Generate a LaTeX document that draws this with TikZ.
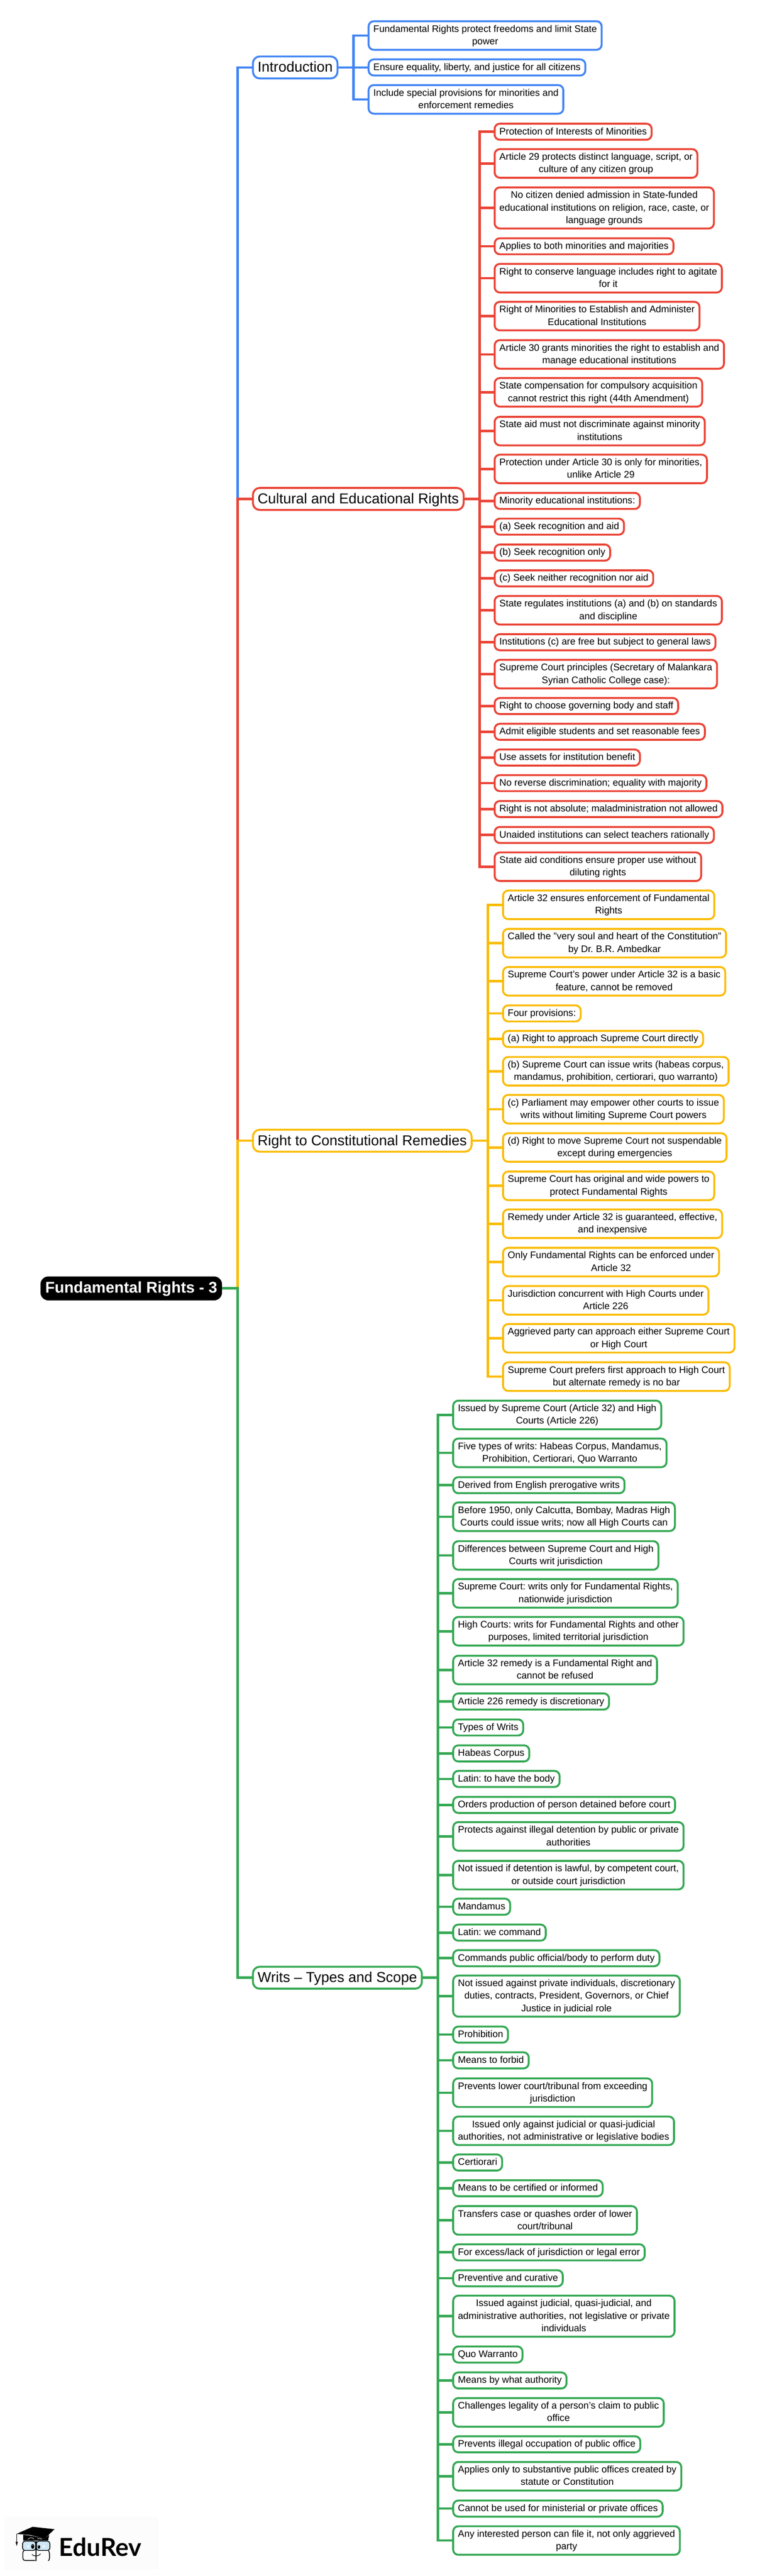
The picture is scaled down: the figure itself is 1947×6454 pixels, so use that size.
\documentclass[tikz,border=0pt]{standalone}
\usepackage{fontspec}
\setmainfont{Liberation Sans}
\newfontfamily\logofont{Lato}
\definecolor{gblue}{HTML}{4285F4}
\definecolor{gred}{HTML}{EA4335}
\definecolor{gyellow}{HTML}{FBBC04}
\definecolor{ggreen}{HTML}{34A853}
\definecolor{glass}{HTML}{CFE8F7}
\frenchspacing
\newcommand{\lstr}{\rule[-8.7pt]{0pt}{31.3pt}}
\tikzset{
	root/.style={anchor=center, fill=black, text=white, rounded corners=20pt, inner xsep=12pt, inner ysep=0pt, font=\fontsize{39}{50}\selectfont\bfseries, outer sep=0pt, execute at begin node={\rule[-18.5pt]{0pt}{60pt}}},
	branch/.style={anchor=west, draw=#1, fill=white, line width=4.8pt, rounded corners=17pt, inner xsep=12pt, inner ysep=4pt, font=\fontsize{36}{47}\selectfont, outer sep=0pt, execute at begin node={\rule[-11.8pt]{0pt}{47pt}}},
	leaf/.style={anchor=west, draw=#1, fill=white, line width=4.8pt, rounded corners=13pt, inner xsep=12pt, inner ysep=4.5pt, align=center, font=\fontsize{24}{31.3}\selectfont, outer sep=0pt, execute at end node=\lstr},
	link/.style={draw=#1, line width=6pt},
}
\begin{document}
\begin{tikzpicture}[x=1pt,y=-1pt]
	\useasboundingbox (0,0) rectangle (1947,6454);

	\node (T) [root] at (329,3228) {Fundamental Rights - 3};
	\coordinate (M) at (596,3228);

	\node (I) [branch=gblue] at (634,169) {Introduction};
	\node (C) [branch=gred] at (634,1250) {Cultural and Educational Rights};
	\node (R) [branch=gyellow] at (634,2858) {Right to Constitutional Remedies};
	\node (W) [branch=ggreen] at (634,4955) {Writs – Types and Scope};

	\coordinate (Is) at (886,169);
	\coordinate (Cs) at (1202,1250);
	\coordinate (Rs) at (1223,2858);
	\coordinate (Ws) at (1098,4955);

	\node (I1) [leaf=gblue] at (924,89) {\lstr Fundamental Rights protect freedoms and limit State\\power};
	\node (I2) [leaf=gblue] at (924,169) {\lstr Ensure equality, liberty, and justice for all citizens};
	\node (I3) [leaf=gblue] at (924,249) {\lstr Include special provisions for minorities and\\enforcement remedies};

	\node (C1) [leaf=gred] at (1240,330) {\lstr Protection of Interests of Minorities};
	\node (C2) [leaf=gred] at (1240,409.5) {\lstr Article 29 protects distinct language, script, or\\culture of any citizen group};
	\node (C3) [leaf=gred] at (1240,521) {\lstr No citizen denied admission in State-funded\\educational institutions on religion, race, caste, or\\language grounds};
	\node (C4) [leaf=gred] at (1240,617) {\lstr Applies to both minorities and majorities};
	\node (C5) [leaf=gred] at (1240,697) {\lstr Right to conserve language includes right to agitate\\for it};
	\node (C6) [leaf=gred] at (1240,792) {\lstr Right of Minorities to Establish and Administer\\Educational Institutions};
	\node (C7) [leaf=gred] at (1240,888) {\lstr Article 30 grants minorities the right to establish and\\manage educational institutions};
	\node (C8) [leaf=gred] at (1240,983) {\lstr State compensation for compulsory acquisition\\cannot restrict this right (44th Amendment)};
	\node (C9) [leaf=gred] at (1240,1080) {\lstr State aid must not discriminate against minority\\institutions};
	\node (C10) [leaf=gred] at (1240,1175) {\lstr Protection under Article 30 is only for minorities,\\unlike Article 29};
	\node (C11) [leaf=gred] at (1240,1255) {\lstr Minority educational institutions:};
	\node (C12) [leaf=gred] at (1240,1319.5) {\lstr (a) Seek recognition and aid};
	\node (C13) [leaf=gred] at (1240,1384.5) {\lstr (b) Seek recognition only};
	\node (C14) [leaf=gred] at (1240,1449) {\lstr (c) Seek neither recognition nor aid};
	\node (C15) [leaf=gred] at (1240,1529) {\lstr State regulates institutions (a) and (b) on standards\\and discipline};
	\node (C16) [leaf=gred] at (1240,1609) {\lstr Institutions (c) are free but subject to general laws};
	\node (C17) [leaf=gred] at (1240,1689) {\lstr Supreme Court principles (Secretary of Malankara\\Syrian Catholic College case):};
	\node (C18) [leaf=gred] at (1240,1769) {\lstr Right to choose governing body and staff};
	\node (C19) [leaf=gred] at (1240,1833.5) {\lstr Admit eligible students and set reasonable fees};
	\node (C20) [leaf=gred] at (1240,1898) {\lstr Use assets for institution benefit};
	\node (C21) [leaf=gred] at (1240,1962) {\lstr No reverse discrimination; equality with majority};
	\node (C22) [leaf=gred] at (1240,2027) {\lstr Right is not absolute; maladministration not allowed};
	\node (C23) [leaf=gred] at (1240,2092) {\lstr Unaided institutions can select teachers rationally};
	\node (C24) [leaf=gred] at (1240,2171.5) {\lstr State aid conditions ensure proper use without\\diluting rights};

	\node (R1) [leaf=gyellow] at (1261,2267) {\lstr Article 32 ensures enforcement of Fundamental\\Rights};
	\node (R2) [leaf=gyellow] at (1261,2363) {\lstr Called the "very soul and heart of the Constitution"\\by Dr. B.R. Ambedkar};
	\node (R3) [leaf=gyellow] at (1261,2458.5) {\lstr Supreme Court's power under Article 32 is a basic\\feature, cannot be removed};
	\node (R4) [leaf=gyellow] at (1261,2539) {\lstr Four provisions:};
	\node (R5) [leaf=gyellow] at (1261,2603) {\lstr (a) Right to approach Supreme Court directly};
	\node (R6) [leaf=gyellow] at (1261,2684) {\lstr (b) Supreme Court can issue writs (habeas corpus,\\mandamus, prohibition, certiorari, quo warranto)};
	\node (R7) [leaf=gyellow] at (1261,2779) {\lstr (c) Parliament may empower other courts to issue\\writs without limiting Supreme Court powers};
	\node (R8) [leaf=gyellow] at (1261,2875) {\lstr (d) Right to move Supreme Court not suspendable\\except during emergencies};
	\node (R9) [leaf=gyellow] at (1261,2971) {\lstr Supreme Court has original and wide powers to\\protect Fundamental Rights};
	\node (R10) [leaf=gyellow] at (1261,3066) {\lstr Remedy under Article 32 is guaranteed, effective,\\and inexpensive};
	\node (R11) [leaf=gyellow] at (1261,3162) {\lstr Only Fundamental Rights can be enforced under\\Article 32};
	\node (R12) [leaf=gyellow] at (1261,3258) {\lstr Jurisdiction concurrent with High Courts under\\Article 226};
	\node (R13) [leaf=gyellow] at (1261,3353) {\lstr Aggrieved party can approach either Supreme Court\\or High Court};
	\node (R14) [leaf=gyellow] at (1261,3449) {\lstr Supreme Court prefers first approach to High Court\\but alternate remedy is no bar};

	\node (W1) [leaf=ggreen] at (1136,3545) {\lstr Issued by Supreme Court (Article 32) and High\\Courts (Article 226)};
	\node (W2) [leaf=ggreen] at (1136,3640) {\lstr Five types of writs: Habeas Corpus, Mandamus,\\Prohibition, Certiorari, Quo Warranto};
	\node (W3) [leaf=ggreen] at (1136,3721) {\lstr Derived from English prerogative writs};
	\node (W4) [leaf=ggreen] at (1136,3800) {\lstr Before 1950, only Calcutta, Bombay, Madras High\\Courts could issue writs; now all High Courts can};
	\node (W5) [leaf=ggreen] at (1136,3897) {\lstr Differences between Supreme Court and High\\Courts writ jurisdiction};
	\node (W6) [leaf=ggreen] at (1136,3992) {\lstr Supreme Court: writs only for Fundamental Rights,\\nationwide jurisdiction};
	\node (W7) [leaf=ggreen] at (1136,4087) {\lstr High Courts: writs for Fundamental Rights and other\\purposes, limited territorial jurisdiction};
	\node (W8) [leaf=ggreen] at (1136,4184) {\lstr Article 32 remedy is a Fundamental Right and\\cannot be refused};
	\node (W9) [leaf=ggreen] at (1136,4263) {\lstr Article 226 remedy is discretionary};
	\node (W10) [leaf=ggreen] at (1136,4328) {\lstr Types of Writs};
	\node (W11) [leaf=ggreen] at (1136,4393) {\lstr Habeas Corpus};
	\node (W12) [leaf=ggreen] at (1136,4457) {\lstr Latin: to have the body};
	\node (W13) [leaf=ggreen] at (1136,4522) {\lstr Orders production of person detained before court};
	\node (W14) [leaf=ggreen] at (1136,4601) {\lstr Protects against illegal detention by public or private\\authorities};
	\node (W15) [leaf=ggreen] at (1136,4698) {\lstr Not issued if detention is lawful, by competent court,\\or outside court jurisdiction};
	\node (W16) [leaf=ggreen] at (1136,4777) {\lstr Mandamus};
	\node (W17) [leaf=ggreen] at (1136,4842) {\lstr Latin: we command};
	\node (W18) [leaf=ggreen] at (1136,4906) {\lstr Commands public official/body to perform duty};
	\node (W19) [leaf=ggreen] at (1136,5001) {\lstr Not issued against private individuals, discretionary\\duties, contracts, President, Governors, or Chief\\Justice in judicial role};
	\node (W20) [leaf=ggreen] at (1136,5097.5) {\lstr Prohibition};
	\node (W21) [leaf=ggreen] at (1136,5162) {\lstr Means to forbid};
	\node (W22) [leaf=ggreen] at (1136,5243) {\lstr Prevents lower court/tribunal from exceeding\\jurisdiction};
	\node (W23) [leaf=ggreen] at (1136,5338.5) {\lstr Issued only against judicial or quasi-judicial\\authorities, not administrative or legislative bodies};
	\node (W24) [leaf=ggreen] at (1136,5418) {\lstr Certiorari};
	\node (W25) [leaf=ggreen] at (1136,5482.5) {\lstr Means to be certified or informed};
	\node (W26) [leaf=ggreen] at (1136,5563) {\lstr Transfers case or quashes order of lower\\court/tribunal};
	\node (W27) [leaf=ggreen] at (1136,5643) {\lstr For excess/lack of jurisdiction or legal error};
	\node (W28) [leaf=ggreen] at (1136,5708) {\lstr Preventive and curative};
	\node (W29) [leaf=ggreen] at (1136,5803) {\lstr Issued against judicial, quasi-judicial, and\\administrative authorities, not legislative or private\\individuals};
	\node (W30) [leaf=ggreen] at (1136,5899) {\lstr Quo Warranto};
	\node (W31) [leaf=ggreen] at (1136,5964) {\lstr Means by what authority};
	\node (W32) [leaf=ggreen] at (1136,6044) {\lstr Challenges legality of a person's claim to public\\office};
	\node (W33) [leaf=ggreen] at (1136,6124) {\lstr Prevents illegal occupation of public office};
	\node (W34) [leaf=ggreen] at (1136,6204) {\lstr Applies only to substantive public offices created by\\statute or Constitution};
	\node (W35) [leaf=ggreen] at (1136,6285) {\lstr Cannot be used for ministerial or private offices};
	\node (W36) [leaf=ggreen] at (1136,6365) {\lstr Any interested person can file it, not only aggrieved\\party};

	\draw [link=gblue] (M) |- (I.west);
	\draw [link=gred] (M) |- (C.west);
	\draw [link=gyellow] (M) |- (R.west);
	\draw [link=ggreen] (T.east) -- (M) |- (W.west);

	\draw [link=gblue] (I.east) -- (Is);
	\foreach \n in {1,...,3} \draw [link=gblue] (Is) |- (I\n.west);
	\draw [link=gred] (C.east) -- (Cs);
	\foreach \n in {1,...,24} \draw [link=gred] (Cs) |- (C\n.west);
	\draw [link=gyellow] (R.east) -- (Rs);
	\foreach \n in {1,...,14} \draw [link=gyellow] (Rs) |- (R\n.west);
	\draw [link=ggreen] (W.east) -- (Ws);
	\foreach \n in {1,...,36} \draw [link=ggreen] (Ws) |- (W\n.west);

	\fill [fill=black!1] (10,6305) rectangle (397,6438);
	\node (logo) [anchor=west, inner sep=0pt] at (148,6381) {\fontsize{62}{62}\logofont\bfseries EduRev};
	\begin{scope}[shift={(0,6290)},x=0.3333pt,y=-0.3333pt]
		\fill (125,175) -- (245,122) -- (410,140) -- (335,212) -- (235,185) -- cycle;
		\fill (175,182) -- (175,226) -- (362,226) -- (370,182) -- (335,212) -- (240,190) -- cycle;
		\draw [white, line width=1pt] (210,216) .. controls (225,200) and (240,200) .. (255,214);
		\draw [white, line width=1pt] (282,214) .. controls (290,208) and (305,208) .. (315,216);
		\draw [line width=1.2pt] (125,175) -- (125,235);
		\fill (117,235) -- (134,235) -- (126,266) -- cycle;
		\draw [fill=glass, line width=2pt, rounded corners=6pt] (170,230) rectangle (268,300);
		\draw [fill=glass, line width=2pt, rounded corners=6pt] (274,230) rectangle (375,300);
		\fill (246,270) ellipse [x radius=12, y radius=18];
		\fill (293,273) ellipse [x radius=10, y radius=14];
		\fill [white] (244,263) circle [radius=3];
		\fill [white] (291,266) circle [radius=3];
		\fill [white] (207,263) rectangle (221,273);
		\fill [white] (322,263) rectangle (336,273);
		\draw [line width=2pt] (272,228) -- (272,380);
		\draw [line width=2pt] (265,375) -- (190,375) .. controls (175,375) and (172,365) .. (172,350) -- (172,318) .. controls (172,310) and (175,305) .. (180,302);
		\draw [line width=2pt] (365,302) .. controls (372,310) and (372,318) .. (372,330) -- (372,360) .. controls (372,368) and (368,375) .. (362,377);
		\draw [line width=1.5pt] (240,330) .. controls (255,345) and (285,348) .. (305,325);
	\end{scope}
\end{tikzpicture}
\end{document}
